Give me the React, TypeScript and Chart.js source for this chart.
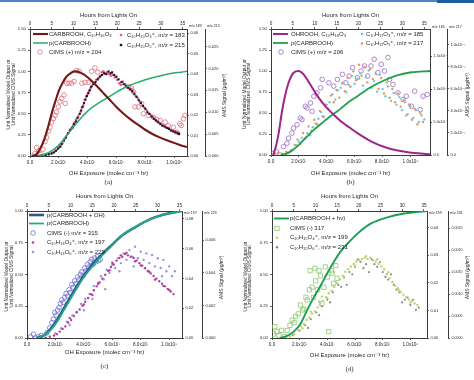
import React, { useEffect, useRef } from "react";
import { Chart, registerables } from "chart.js";

Chart.register(...registerables);

type Pt = [number, number];
type Kind = "line" | "openCircle" | "openSquare" | "dot" | "square";

const FONT = '"Liberation Sans", Arial, "DejaVu Sans", sans-serif';
const SERIF = '"Liberation Serif", "Times New Roman", serif';
const AXIS = "#3b3b3b";
const TEXT = "#262626";
const W = 237;
const H = 190;

// x values are OH exposure in units of 1e7 molec cm^-3 hr; y in normalized units or AMS ug/m3

// ---------------- Panel (a) ----------------
const A_CARBROOH: Pt[] = [[0.25,0],[0.5,0.03],[0.75,0.1],[1.0,0.2],[1.25,0.34],[1.5,0.5],[1.75,0.64],[2.0,0.77],[2.25,0.86],[2.5,0.93],[2.75,0.97],[3.1,1.0],[3.5,0.985],[4.0,0.93],[4.5,0.85],[5.0,0.76],[5.5,0.67],[6.0,0.58],[6.5,0.5],[7.0,0.43],[7.5,0.37],[8.0,0.31],[8.5,0.26],[9.0,0.22],[9.5,0.185],[10.0,0.155],[10.5,0.125],[10.9,0.105]];
const A_P_CARBROOH: Pt[] = [[0.5,0],[1.0,0.02],[1.5,0.06],[2.0,0.13],[2.5,0.23],[3.0,0.34],[3.5,0.44],[4.0,0.53],[4.5,0.595],[5.0,0.65],[5.5,0.7],[6.0,0.755],[6.5,0.8],[7.0,0.84],[7.5,0.87],[8.0,0.9],[8.5,0.925],[9.0,0.945],[9.5,0.965],[10.0,0.98],[10.5,0.99],[10.9,1.0]];
const A_CIMS_204: Pt[] = [[0.2,0.0],[0.35,0.03],[0.46,0.1],[0.6,0.06],[0.75,0.02],[0.9,0.08],[1.04,0.17],[1.15,0.22],[1.27,0.29],[1.39,0.34],[1.5,0.4],[1.62,0.44],[1.74,0.48],[1.85,0.52],[1.97,0.58],[2.08,0.64],[2.2,0.68],[2.36,0.72],[2.45,0.62],[2.55,0.86],[2.7,0.86],[2.89,0.86],[3.06,0.88],[3.24,1.01],[3.42,1.0],[3.6,0.86],[3.82,0.87],[4.05,0.87],[4.28,1.0],[4.51,1.04],[4.7,0.99],[6.83,0.82],[7.05,0.8],[7.18,0.76],[7.29,0.58],[7.52,0.58],[7.75,0.62],[7.87,0.5],[8.22,0.48],[8.56,0.46],[8.8,0.43],[9.03,0.42],[9.38,0.4],[9.6,0.36],[9.95,0.34],[10.19,0.28],[10.4,0.38],[10.5,0.36],[10.65,0.44],[10.76,0.48]];
const A_AMS_183: Pt[] = [[0.4,0.0004],[0.7,0.0],[1.0,0.0004],[1.3,0.0008],[1.5,0.0012],[1.7,0.0021],[1.85,0.0029],[2.0,0.0041],[2.1,0.005],[2.25,0.0062],[2.4,0.0083],[2.5,0.0095],[2.6,0.0107],[2.75,0.0124],[2.9,0.0136],[3.0,0.0149],[3.1,0.0165],[3.2,0.0178],[3.35,0.0194],[3.5,0.0215],[3.6,0.0235],[3.7,0.0248],[3.8,0.0273],[3.9,0.0289],[4.0,0.0301],[4.1,0.0318],[4.2,0.033],[4.3,0.0343],[4.45,0.0355],[4.6,0.0372],[4.75,0.038],[4.9,0.0392],[5.0,0.0409],[5.1,0.0413],[5.2,0.0401],[5.35,0.0409],[5.5,0.0401],[5.6,0.0392],[5.75,0.0396],[5.9,0.0384],[6.05,0.0372],[6.2,0.0355],[6.3,0.0347],[6.45,0.0363],[6.6,0.0351],[6.75,0.0339],[6.9,0.033],[7.05,0.0326],[7.2,0.031],[7.35,0.0293],[7.5,0.0281],[7.65,0.0264],[7.8,0.0248],[7.95,0.0235],[8.1,0.0223],[8.25,0.0207],[8.4,0.0198],[8.55,0.019],[8.7,0.0178],[8.85,0.0169],[9.0,0.0161],[9.15,0.0153],[9.3,0.0149],[9.45,0.014],[9.6,0.0136],[9.75,0.0128],[9.9,0.0124],[10.05,0.012],[10.2,0.0116],[10.35,0.0112]];
const A_AMS_215: Pt[] = [[0.2,0.0],[0.5,0.0],[0.8,0.0002],[1.1,0.0002],[1.3,0.0004],[1.5,0.0006],[1.65,0.0008],[1.8,0.0012],[1.95,0.0017],[2.1,0.0021],[2.2,0.0027],[2.35,0.0035],[2.5,0.0042],[2.65,0.0052],[2.8,0.006],[2.95,0.0065],[3.05,0.0073],[3.2,0.0079],[3.3,0.0087],[3.45,0.0096],[3.55,0.0104],[3.65,0.0112],[3.75,0.0121],[3.85,0.0129],[3.95,0.0137],[4.05,0.0144],[4.15,0.015],[4.25,0.0158],[4.4,0.0164],[4.55,0.0169],[4.7,0.0175],[4.85,0.0181],[5.0,0.0185],[5.15,0.0189],[5.3,0.0187],[5.45,0.0193],[5.6,0.0189],[5.7,0.0191],[5.85,0.0185],[6.0,0.0181],[6.15,0.0175],[6.35,0.0169],[6.5,0.0164],[6.65,0.016],[6.8,0.0156],[6.95,0.0152],[7.1,0.0148],[7.25,0.0141],[7.4,0.0135],[7.55,0.0127],[7.7,0.0121],[7.85,0.0114],[8.0,0.0108],[8.15,0.01],[8.3,0.0096],[8.45,0.009],[8.6,0.0085],[8.75,0.0081],[8.9,0.0077],[9.05,0.0073],[9.2,0.0069],[9.35,0.0067],[9.5,0.0064],[9.65,0.0062],[9.8,0.0058],[9.95,0.0056],[10.1,0.0054],[10.25,0.0052],[10.35,0.005]];

// ---------------- Panel (b) ----------------
const B_OHROOH: Pt[] = [[0.15,0],[0.35,0.1],[0.55,0.26],[0.77,0.5],[1.0,0.7],[1.26,0.86],[1.62,0.98],[1.98,1.0],[2.34,0.96],[2.7,0.87],[3.3,0.71],[3.9,0.58],[4.5,0.48],[5.1,0.39],[5.6,0.33],[6.2,0.26],[7.2,0.16],[8.4,0.08],[9.6,0.04],[10.5,0.02],[11.4,0.01]];
const B_P_CARBROOH: Pt[] = [[0.7,0],[1.0,0.01],[1.4,0.04],[1.86,0.1],[2.34,0.18],[3.07,0.3],[3.8,0.4],[4.4,0.48],[4.76,0.52],[5.48,0.62],[6.2,0.7],[7.17,0.81],[8.14,0.89],[9.1,0.95],[10.07,0.985],[11.4,1.0]];
const B_CIMS_206: Pt[] = [[0.15,0.02],[0.4,0.04],[0.65,0.0],[0.9,0.1],[1.14,0.14],[1.26,0.2],[1.5,0.26],[1.62,0.32],[1.86,0.36],[2.1,0.44],[2.22,0.42],[2.46,0.58],[2.58,0.56],[2.83,0.62],[2.95,0.52],[3.07,0.7],[3.3,0.74],[3.55,0.8],[3.67,0.9],[4.15,0.86],[4.5,0.82],[4.76,0.9],[5.12,0.96],[5.36,0.86],[5.6,0.94],[5.85,1.04],[6.2,0.92],[6.45,1.0],[6.7,1.06],[6.93,0.94],[7.17,1.06],[7.4,1.14],[7.66,0.98],[7.9,1.08],[8.14,1.0],[8.38,1.16],[8.5,0.9],[8.74,0.84],[9.1,0.74],[9.47,0.66],[9.7,0.7],[10.07,0.58],[10.3,0.76],[10.7,0.54],[10.9,0.7],[11.2,0.72]];
const B_AMS_185: Pt[] = [[1.2,0.0003],[1.5,0.0008],[1.8,0.0015],[2.0,0.002],[2.2,0.0026],[2.4,0.0024],[2.6,0.0033],[2.8,0.003],[3.0,0.0042],[3.2,0.0048],[3.4,0.0055],[3.6,0.0065],[3.8,0.0058],[4.0,0.0076],[4.2,0.008],[4.4,0.0092],[4.6,0.0084],[4.8,0.0098],[5.0,0.0102],[5.2,0.011],[5.4,0.0095],[5.6,0.0106],[5.8,0.012],[6.0,0.0108],[6.2,0.0116],[6.4,0.0124],[6.6,0.0105],[6.8,0.0118],[7.0,0.0128],[7.2,0.0102],[7.4,0.0112],[7.6,0.0096],[7.8,0.0122],[8.0,0.01],[8.2,0.0089],[8.4,0.0104],[8.6,0.0082],[8.8,0.0094],[9.0,0.0076],[9.2,0.0088],[9.4,0.0068],[9.6,0.008],[9.8,0.0062],[10.0,0.0074],[10.2,0.0056],[10.4,0.0068],[10.6,0.005],[10.8,0.006],[11.0,0.0054]];
const B_AMS_217: Pt[] = [[0.2,0.0001],[0.5,0.0002],[0.8,0.0001],[1.1,0.0003],[1.4,0.0004],[1.7,0.0009],[1.9,0.0014],[2.1,0.001],[2.3,0.002],[2.5,0.0016],[2.7,0.0026],[2.9,0.0022],[3.1,0.0032],[3.3,0.0028],[3.5,0.004],[3.7,0.0035],[3.9,0.0046],[4.1,0.0042],[4.3,0.0054],[4.5,0.0048],[4.7,0.0059],[4.9,0.0052],[5.1,0.0065],[5.3,0.0058],[5.5,0.007],[5.7,0.0062],[5.9,0.0076],[6.1,0.0068],[6.3,0.0082],[6.5,0.0072],[6.7,0.008],[6.9,0.0066],[7.1,0.0078],[7.3,0.0069],[7.5,0.0074],[7.7,0.006],[7.9,0.007],[8.1,0.0056],[8.3,0.0066],[8.5,0.0052],[8.7,0.006],[8.9,0.0048],[9.1,0.0056],[9.3,0.0044],[9.5,0.005],[9.7,0.0036],[9.9,0.0046],[10.1,0.0032],[10.3,0.0042],[10.5,0.0028],[10.7,0.0038],[10.9,0.003]];

// ---------------- Panel (c) ----------------
const C_P_OH: Pt[] = [[0.7,0],[1.18,0.02],[1.65,0.07],[2.13,0.145],[2.6,0.235],[3.07,0.325],[3.55,0.415],[4.0,0.49],[4.5,0.565],[5.2,0.65],[5.9,0.725],[6.6,0.8],[7.57,0.87],[8.75,0.94],[9.93,0.98],[10.9,1.0]];
const C_P_CARBROOH: Pt[] = [[0.7,0],[1.18,0.02],[1.65,0.06],[2.13,0.13],[2.6,0.22],[3.07,0.31],[3.55,0.4],[4.0,0.48],[4.5,0.55],[5.2,0.64],[5.9,0.72],[6.6,0.8],[7.57,0.87],[8.75,0.94],[9.93,0.98],[10.9,1.0]];
const C_CIMS_315: Pt[] = [[0.25,0.01],[0.45,0.03],[0.6,0.0],[0.8,0.01],[1.0,0.02],[1.2,0.01],[1.4,0.04],[1.6,0.08],[1.75,0.12],[1.85,0.15],[1.95,0.2],[2.05,0.18],[2.15,0.22],[2.25,0.24],[2.35,0.27],[2.45,0.3],[2.55,0.28],[2.65,0.32],[2.75,0.35],[2.85,0.33],[2.95,0.38],[3.05,0.36],[3.15,0.42],[3.25,0.4],[3.35,0.45],[3.45,0.43],[3.55,0.48],[3.65,0.46],[3.75,0.5],[3.85,0.52],[3.95,0.49],[4.05,0.55],[4.15,0.53],[4.25,0.58],[4.35,0.56],[4.45,0.6],[4.55,0.62],[4.65,0.58],[4.75,0.63],[4.85,0.6],[4.95,0.64],[5.05,0.61],[5.15,0.62]];
const C_AMS_197: Pt[] = [[1.3,0.0],[1.6,0.0009],[1.9,0.0017],[2.1,0.0026],[2.3,0.0043],[2.5,0.0061],[2.7,0.0078],[2.9,0.0104],[3.0,0.0135],[3.1,0.0121],[3.3,0.0147],[3.5,0.0173],[3.7,0.0191],[3.9,0.0217],[4.0,0.0225],[4.1,0.0243],[4.3,0.0269],[4.5,0.0295],[4.6,0.0288],[4.7,0.0321],[4.9,0.0347],[5.0,0.0362],[5.1,0.0373],[5.3,0.0399],[5.5,0.0425],[5.7,0.0451],[5.8,0.0455],[5.9,0.0477],[6.0,0.0505],[6.1,0.0494],[6.3,0.052],[6.5,0.0538],[6.6,0.0555],[6.7,0.0546],[6.9,0.0564],[7.0,0.0572],[7.1,0.0555],[7.3,0.0546],[7.5,0.0538],[7.6,0.0515],[7.7,0.052],[7.9,0.0503],[8.0,0.0488],[8.1,0.0486],[8.3,0.0468],[8.5,0.0451],[8.6,0.0445],[8.7,0.0434],[8.9,0.0416],[9.0,0.0392],[9.1,0.0399],[9.3,0.0381],[9.5,0.0364],[9.6,0.035],[9.7,0.0347],[9.9,0.0329],[10.0,0.0322],[10.1,0.0312],[10.3,0.0295]];
const C_AMS_229: Pt[] = [[2.0,0.0003],[2.4,0.0006],[2.8,0.001],[3.0,0.0008],[3.2,0.0014],[3.5,0.0016],[3.8,0.0021],[4.0,0.0017],[4.1,0.0024],[4.4,0.0027],[4.6,0.0024],[4.7,0.0032],[5.0,0.0034],[5.2,0.0038],[5.4,0.0036],[5.5,0.003],[5.6,0.0042],[5.8,0.004],[6.0,0.0045],[6.2,0.0043],[6.4,0.0049],[6.5,0.0041],[6.6,0.0046],[6.8,0.0052],[7.0,0.0048],[7.2,0.0054],[7.4,0.005],[7.5,0.0044],[7.6,0.0056],[7.8,0.0049],[8.0,0.0053],[8.2,0.0048],[8.4,0.0052],[8.5,0.0041],[8.6,0.0046],[8.8,0.0051],[9.0,0.0044],[9.2,0.0049],[9.4,0.0043],[9.5,0.0038],[9.6,0.0048],[9.8,0.0041],[10.0,0.0044],[10.2,0.0038],[10.4,0.0041]];

// ---------------- Panel (d) ----------------
const D_P_HV: Pt[] = [[0.6,0],[1.09,0.016],[1.57,0.05],[2.05,0.11],[2.54,0.22],[3.02,0.32],[3.5,0.41],[3.99,0.51],[4.47,0.6],[4.95,0.68],[5.43,0.74],[6.16,0.82],[7.13,0.9],[8.33,0.95],[9.54,0.98],[11.2,1.0]];
const D_CIMS_317: Pt[] = [[0.1,0.03],[0.2,0.09],[0.35,0.05],[0.5,0.02],[0.7,0.06],[0.9,0.01],[1.1,0.06],[1.3,0.1],[1.45,0.14],[1.6,0.12],[1.7,0.17],[1.9,0.19],[2.05,0.26],[2.2,0.22],[2.3,0.23],[2.45,0.32],[2.55,0.3],[2.7,0.38],[2.75,0.53],[2.9,0.4],[3.0,0.32],[3.1,0.55],[3.15,0.45],[3.3,0.38],[3.4,0.53],[3.5,0.49],[3.6,0.27],[3.75,0.4],[3.85,0.56],[4.0,0.48],[4.1,0.05],[4.3,0.53],[4.35,0.51],[4.45,0.43],[4.6,0.57],[4.7,0.47]];
const D_AMS_199: Pt[] = [[1.0,0.0],[1.3,0.0005],[1.6,0.0014],[1.9,0.0028],[2.1,0.0042],[2.2,0.0035],[2.3,0.0051],[2.5,0.0065],[2.7,0.0074],[2.8,0.0095],[2.9,0.0088],[3.1,0.0097],[3.3,0.0111],[3.4,0.0132],[3.5,0.0125],[3.6,0.015],[3.7,0.0134],[3.9,0.0148],[4.0,0.0145],[4.1,0.0162],[4.3,0.0171],[4.4,0.019],[4.5,0.0185],[4.6,0.0205],[4.7,0.0199],[4.9,0.0213],[5.1,0.0226],[5.2,0.0218],[5.3,0.024],[5.5,0.0249],[5.7,0.0259],[5.9,0.0268],[6.0,0.0262],[6.1,0.0277],[6.3,0.0282],[6.5,0.0286],[6.7,0.0291],[6.8,0.0296],[6.9,0.0286],[7.1,0.0291],[7.3,0.0282],[7.5,0.0277],[7.6,0.0285],[7.7,0.0268],[7.9,0.0259],[8.1,0.0249],[8.3,0.0231],[8.4,0.0238],[8.5,0.0217],[8.7,0.0203],[8.9,0.0189],[9.1,0.018],[9.2,0.0172],[9.3,0.0166],[9.5,0.0157],[9.7,0.0148],[9.9,0.0139],[10.0,0.0128],[10.1,0.0134],[10.3,0.0125],[10.5,0.012]];
const D_AMS_231: Pt[] = [[1.5,0.00006],[2.0,0.00017],[2.4,0.00029],[2.6,0.00023],[2.8,0.00043],[3.2,0.00058],[3.4,0.00052],[3.6,0.00072],[4.0,0.00087],[4.2,0.00081],[4.4,0.00104],[4.8,0.00121],[5.0,0.00116],[5.2,0.00139],[5.4,0.00121],[5.6,0.0015],[5.8,0.00145],[6.0,0.00162],[6.2,0.00179],[6.4,0.00173],[6.6,0.00159],[6.8,0.00168],[7.0,0.0015],[7.2,0.00179],[7.4,0.00168],[7.6,0.00162],[7.8,0.00173],[8.0,0.0015],[8.2,0.00139],[8.4,0.00133],[8.6,0.00145],[8.8,0.00121],[9.0,0.0011],[9.2,0.00104],[9.4,0.00081],[9.6,0.00087],[9.8,0.00092],[10.0,0.00075],[10.2,0.00087],[10.4,0.00064],[10.6,0.00069]];

// ---------------- text helpers ----------------
const LEFT_TITLE = ["Unit Normalized Model Output or", "Unit Normalized CIMS Signal"];
const AMS_TITLE = "AMS Signal (\u03BCg/m\u00B3)";
const SUP: Record<string, string> = { "-": "\u207B", "0": "\u2070", "1": "\u00B9", "2": "\u00B2", "3": "\u00B3", "4": "\u2074", "5": "\u2075", "6": "\u2076", "7": "\u2077", "8": "\u2078", "9": "\u2079" };
function sci(v: number): string {
  if (Math.abs(v) < 1e-12) return "0.0";
  let e = Math.floor(Math.log10(Math.abs(v)) + 1e-9);
  let m = v / Math.pow(10, e);
  if (m >= 9.95) { m /= 10; e += 1; }
  return m.toFixed(1) + "x10" + String(e).split("").map((c) => SUP[c]).join("");
}
const f2 = (v: number) => v.toFixed(2);
const f3 = (v: number) => v.toFixed(3);
const f4 = (v: number) => v.toFixed(4);

interface Series { label: string; pts: Pt[]; kind: Kind; color: string; axis: "y" | "y1" | "y2"; lw?: number; r?: number; order: number }
interface AxisCfg { max: number; step: number; fmt: (v: number) => string; tag: string; font: number }
interface LegendItem { i: number; x: number; y: number; tx: number }
interface PanelCfg {
  id: string; pageX: number; pageY: number; caption: string;
  xMax: number; hoursMax: number; yMax: number;
  y1: AxisCfg; y2: AxisCfg;
  geom: { left: number; top: number; bottom: number; y1w: number; y2w: number };
  text: { hoursY: number; xTitleY: number; capY: number; leftX1: number; leftX2: number; amsX: number; tagY: number };
  series: Series[];
  legend: LegendItem[];
}

const PANELS: PanelCfg[] = [
  {
    id: "a", pageX: 0, pageY: 0, caption: "(a)", xMax: 10.9, hoursMax: 36.0, yMax: 1.5,
    y1: { max: 0.062, step: 0.01, fmt: f2, tag: "m/z 183", font: 4 },
    y2: { max: 0.029, step: 0.005, fmt: f3, tag: "m/z 215", font: 4 },
    geom: { left: 30, top: 29, bottom: 34, y1w: 18, y2w: 32 },
    text: { hoursY: 15, xTitleY: 173, capY: 182, leftX1: 8.5, leftX2: 13.5, amsX: 225, tagY: 26 },
    series: [
      { label: "CARBROOH, C\u2081\u2080H\u2081\u2086O\u2083", pts: A_CARBROOH, kind: "line", color: "#761818", axis: "y", lw: 2.1, order: 1 },
      { label: "p(CARBROOH)", pts: A_P_CARBROOH, kind: "line", color: "#26ad6a", axis: "y", lw: 1.5, order: 2 },
      { label: "CIMS (+) m/z = 204", pts: A_CIMS_204, kind: "openCircle", color: "#e0707a", axis: "y", order: 5 },
      { label: "C\u2081\u2080H\u2081\u2085O\u2083\u207A, m/z = 183", pts: A_AMS_183, kind: "dot", color: "#e0559b", axis: "y1", r: 1.3, order: 4 },
      { label: "C\u2081\u2080H\u2081\u2085O\u2085\u207A, m/z = 215", pts: A_AMS_215, kind: "square", color: "#1a1a1a", axis: "y2", r: 1.5, order: 3 },
    ],
    legend: [
      { i: 0, x: 33, y: 34, tx: 49 }, { i: 1, x: 33, y: 43, tx: 49 }, { i: 2, x: 40, y: 52, tx: 49 },
      { i: 3, x: 121, y: 35, tx: 127 }, { i: 4, x: 121, y: 45, tx: 127 },
    ],
  },
  {
    id: "b", pageX: 237, pageY: 0, caption: "(b)", xMax: 11.4, hoursMax: 36.3, yMax: 1.5,
    y1: { max: 0.0191, step: 0.005, fmt: sci, tag: "m/z 185", font: 3.8 },
    y2: { max: 0.01145, step: 0.002, fmt: sci, tag: "m/z 217", font: 3.8 },
    geom: { left: 34, top: 29, bottom: 35, y1w: 17, y2w: 27 },
    text: { hoursY: 15, xTitleY: 173, capY: 182, leftX1: 7.5, leftX2: 12, amsX: 231, tagY: 27 },
    series: [
      { label: "OHROOH, C\u2081\u2080H\u2081\u2088O\u2083", pts: B_OHROOH, kind: "line", color: "#9e2688", axis: "y", lw: 2.0, order: 1 },
      { label: "p(CARBROOH)", pts: B_P_CARBROOH, kind: "line", color: "#23a04c", axis: "y", lw: 1.8, order: 2 },
      { label: "CIMS (+) m/z = 206", pts: B_CIMS_206, kind: "openCircle", color: "#9a68c0", axis: "y", order: 5 },
      { label: "C\u2081\u2080H\u2081\u2087O\u2083\u207A, m/z = 185", pts: B_AMS_185, kind: "dot", color: "#6cc8e4", axis: "y1", r: 1.2, order: 4 },
      { label: "C\u2081\u2080H\u2081\u2087O\u2085\u207A, m/z = 217", pts: B_AMS_217, kind: "dot", color: "#f0945a", axis: "y2", r: 1.2, order: 3 },
    ],
    legend: [
      { i: 0, x: 36, y: 34, tx: 54 }, { i: 1, x: 36, y: 43, tx: 54 }, { i: 2, x: 44, y: 52, tx: 54 },
      { i: 3, x: 125, y: 34, tx: 129 }, { i: 4, x: 125, y: 43.5, tx: 129 },
    ],
  },
  {
    id: "c", pageX: 0, pageY: 190, caption: "(c)", xMax: 10.9, hoursMax: 35.6, yMax: 1.0,
    y1: { max: 0.0853, step: 0.02, fmt: f2, tag: "m/z 197", font: 4 },
    y2: { max: 0.0078, step: 0.002, fmt: f3, tag: "m/z 229", font: 4 },
    geom: { left: 27, top: 21, bottom: 42, y1w: 20, y2w: 35 },
    text: { hoursY: 6, xTitleY: 162, capY: 176, leftX1: 6.7, leftX2: 11.2, amsX: 222, tagY: 22.5 },
    series: [
      { label: "p(CARBROOH + OH)", pts: C_P_OH, kind: "line", color: "#34558f", axis: "y", lw: 2.6, order: 2 },
      { label: "p(CARBROOH)", pts: C_P_CARBROOH, kind: "line", color: "#1fae84", axis: "y", lw: 1.8, order: 1 },
      { label: "CIMS (-) m/z = 315", pts: C_CIMS_315, kind: "openCircle", color: "#6a6ed0", axis: "y", order: 5 },
      { label: "C\u2081\u2080H\u2081\u2083O\u2084\u207A, m/z = 197", pts: C_AMS_197, kind: "dot", color: "#b0409a", axis: "y1", r: 1.2, order: 3 },
      { label: "C\u2081\u2080H\u2081\u2083O\u2086\u207A, m/z = 229", pts: C_AMS_229, kind: "dot", color: "#a092da", axis: "y2", r: 1.2, order: 4 },
    ],
    legend: [
      { i: 0, x: 29, y: 25, tx: 47 }, { i: 1, x: 29, y: 33.5, tx: 47 }, { i: 2, x: 33, y: 43, tx: 47 },
      { i: 3, x: 33, y: 52.5, tx: 47 }, { i: 4, x: 33, y: 62, tx: 47 },
    ],
  },
  {
    id: "d", pageX: 237, pageY: 190, caption: "(d)", xMax: 11.2, hoursMax: 35.7, yMax: 1.0,
    y1: { max: 0.046, step: 0.01, fmt: f2, tag: "m/z 199", font: 4 },
    y2: { max: 0.00289, step: 0.0005, fmt: f4, tag: "m/z 231", font: 3.6 },
    geom: { left: 35, top: 21, bottom: 42, y1w: 21, y2w: 26 },
    text: { hoursY: 6, xTitleY: 165, capY: 179, leftX1: 8.3, leftX2: 12.8, amsX: 231, tagY: 22.5 },
    series: [
      { label: "p(CARBROOH + h\u03BD)", pts: D_P_HV, kind: "line", color: "#1c9e52", axis: "y", lw: 1.9, order: 1 },
      { label: "CIMS (-) 317", pts: D_CIMS_317, kind: "openSquare", color: "#8cc870", axis: "y", order: 5 },
      { label: "C\u2081\u2080H\u2081\u2085O\u2084\u207A, m/z = 199", pts: D_AMS_199, kind: "dot", color: "#bcd672", axis: "y1", r: 1.2, order: 3 },
      { label: "C\u2081\u2080H\u2081\u2085O\u2086\u207A, m/z = 231", pts: D_AMS_231, kind: "dot", color: "#8c8c8c", axis: "y2", r: 1.1, order: 4 },
    ],
    legend: [
      { i: 0, x: 37, y: 28.5, tx: 53 }, { i: 1, x: 40, y: 38.3, tx: 53 },
      { i: 2, x: 40, y: 47.8, tx: 53 }, { i: 3, x: 40, y: 57.3, tx: 53 },
    ],
  },
];

function makeDataset(s: Series): any {
  const base: any = {
    label: s.label,
    data: s.pts.map(([x, y]) => ({ x, y })),
    xAxisID: "x",
    yAxisID: s.axis,
    order: s.order,
  };
  switch (s.kind) {
    case "line":
      return { ...base, showLine: true, pointRadius: 0, borderColor: s.color, borderWidth: s.lw ?? 1.4, cubicInterpolationMode: "monotone", fill: false };
    case "openCircle":
      return { ...base, showLine: false, pointStyle: "circle", pointRadius: s.r ?? 2.3, pointBorderWidth: 0.8, pointBorderColor: s.color, pointBackgroundColor: "rgba(0,0,0,0)" };
    case "openSquare":
      return { ...base, showLine: false, pointStyle: "rect", pointRadius: s.r ?? 3, pointBorderWidth: 0.8, pointBorderColor: s.color, pointBackgroundColor: "rgba(0,0,0,0)" };
    case "square":
      return { ...base, showLine: false, pointStyle: "rect", pointRadius: s.r ?? 1.4, pointBorderWidth: 0, pointBackgroundColor: s.color };
    default:
      return { ...base, showLine: false, pointStyle: "circle", pointRadius: s.r ?? 1.1, pointBorderWidth: 0, pointBackgroundColor: s.color };
  }
}

function drawLegendMark(ctx: CanvasRenderingContext2D, s: Series, x: number, y: number) {
  ctx.save();
  if (s.kind === "line") {
    ctx.strokeStyle = s.color;
    ctx.lineWidth = s.lw ?? 1.4;
    ctx.beginPath();
    ctx.moveTo(x, y);
    ctx.lineTo(x + 15, y);
    ctx.stroke();
  } else if (s.kind === "openCircle") {
    ctx.strokeStyle = s.color;
    ctx.lineWidth = 0.8;
    ctx.beginPath();
    ctx.arc(x, y, 2.3, 0, Math.PI * 2);
    ctx.stroke();
  } else if (s.kind === "openSquare") {
    ctx.strokeStyle = s.color;
    ctx.lineWidth = 0.8;
    ctx.strokeRect(x - 2.1, y - 2.1, 4.2, 4.2);
  } else if (s.kind === "square") {
    ctx.fillStyle = s.color;
    ctx.fillRect(x - 1.2, y - 1.2, 2.4, 2.4);
  } else {
    ctx.fillStyle = s.color;
    ctx.beginPath();
    ctx.arc(x, y, 1.3, 0, Math.PI * 2);
    ctx.fill();
  }
  ctx.restore();
}

function annotPlugin(p: PanelCfg): any {
  return {
    id: "annot_" + p.id,
    afterDraw(chart: any) {
      const ctx: CanvasRenderingContext2D = chart.ctx;
      const { left, right, top, bottom } = chart.chartArea;
      const cx = (left + right) / 2;
      const cy = (top + bottom) / 2;
      const s1 = chart.scales.y1;
      const s2 = chart.scales.y2;
      ctx.save();
      ctx.fillStyle = TEXT;
      ctx.textBaseline = "middle";
      ctx.textAlign = "center";
      ctx.font = `6px ${FONT}`;
      ctx.fillText("Hours from Lights On", cx, p.text.hoursY);
      ctx.fillText("OH Exposure (molec cm\u207B\u00B3 hr)", cx, p.text.xTitleY);
      ctx.font = `7px ${SERIF}`;
      ctx.fillText(p.caption, cx, p.text.capY);
      const rot = (txt: string, x: number, y: number, font: string) => {
        ctx.save();
        ctx.translate(x, y);
        ctx.rotate(-Math.PI / 2);
        ctx.font = font;
        ctx.fillText(txt, 0, 0);
        ctx.restore();
      };
      rot(LEFT_TITLE[0], p.text.leftX1, cy + 2, `4.8px ${FONT}`);
      rot(LEFT_TITLE[1], p.text.leftX2, cy + 2, `4.8px ${FONT}`);
      rot(AMS_TITLE, p.text.amsX, cy + 3, `5px ${FONT}`);
      ctx.textAlign = "left";
      ctx.font = `3.6px ${FONT}`;
      ctx.fillText(p.y1.tag, s1.left + 2, p.text.tagY);
      ctx.fillText(p.y2.tag, s2.left + 2, p.text.tagY);
      ctx.font = `6px ${FONT}`;
      for (const it of p.legend) {
        const s = p.series[it.i];
        drawLegendMark(ctx, s, it.x, it.y);
        ctx.fillStyle = TEXT;
        ctx.fillText(s.label, it.tx, it.y);
      }
      ctx.restore();
    },
  };
}

function buildConfig(p: PanelCfg): any {
  const grid = { display: true, drawOnChartArea: false, drawTicks: true, tickLength: 2, color: AXIS, lineWidth: 0.8 };
  const border = { display: true, color: AXIS, width: 1 };
  const tf = (size: number) => ({ family: FONT, size });
  return {
    type: "scatter",
    data: { datasets: p.series.map(makeDataset) },
    options: {
      animation: false,
      responsive: false,
      devicePixelRatio: 1,
      events: [],
      layout: { padding: 0 },
      plugins: { legend: { display: false }, tooltip: { enabled: false }, title: { display: false } },
      scales: {
        x: {
          type: "linear", position: "bottom", min: 0, max: p.xMax,
          ticks: { stepSize: 2, includeBounds: false, autoSkip: false, maxRotation: 0, padding: 2, color: TEXT, font: tf(4.6), callback: (v: any) => sci(Number(v) * 1e7) },
          grid, border, afterFit: (s: any) => { s.height = p.geom.bottom; },
        },
        x2: {
          type: "linear", position: "top", min: 0, max: p.hoursMax,
          ticks: { stepSize: 5, includeBounds: false, autoSkip: false, maxRotation: 0, padding: 0.5, color: TEXT, font: tf(4.6), callback: (v: any) => String(Math.round(Number(v))) },
          grid, border, afterFit: (s: any) => { s.height = p.geom.top; },
        },
        y: {
          type: "linear", position: "left", min: 0, max: p.yMax,
          ticks: { stepSize: 0.25, includeBounds: false, autoSkip: false, padding: 2, color: TEXT, font: tf(4.3), callback: (v: any) => f2(Number(v)) },
          grid, border, afterFit: (s: any) => { s.width = p.geom.left; },
        },
        y1: {
          type: "linear", position: "right", min: 0, max: p.y1.max,
          ticks: { stepSize: p.y1.step, includeBounds: false, autoSkip: false, padding: 1.5, color: TEXT, font: tf(p.y1.font), callback: (v: any) => p.y1.fmt(Number(v)) },
          grid, border, afterFit: (s: any) => { s.width = p.geom.y1w; },
        },
        y2: {
          type: "linear", position: "right", min: 0, max: p.y2.max,
          ticks: { stepSize: p.y2.step, includeBounds: false, autoSkip: false, padding: 1.5, color: TEXT, font: tf(p.y2.font), callback: (v: any) => p.y2.fmt(Number(v)) },
          grid, border, afterFit: (s: any) => { s.width = p.geom.y2w; },
        },
      },
    },
    plugins: [annotPlugin(p)],
  };
}

function PanelCanvas({ p }: { p: PanelCfg }) {
  const ref = useRef<HTMLCanvasElement | null>(null);
  useEffect(() => {
    if (!ref.current) return;
    const chart = new Chart(ref.current, buildConfig(p));
    return () => chart.destroy();
  }, [p]);
  return (
    <canvas
      ref={ref}
      width={W}
      height={H}
      style={{ position: "absolute", left: p.pageX, top: p.pageY, width: W, height: H, display: "block" }}
    />
  );
}

export default function App() {
  return (
    <div style={{ position: "absolute", left: 0, top: 0, width: 474, height: 380, background: "#ffffff", overflow: "hidden" }}>
      {PANELS.map((p) => (
        <PanelCanvas key={p.id} p={p} />
      ))}
      <div style={{ position: "absolute", left: 0, top: 0, width: 474, height: 2, background: "#4a86c6" }} />
      <div style={{ position: "absolute", left: 437, top: 0, width: 37, height: 3, background: "#1f5ea0" }} />
    </div>
  );
}
